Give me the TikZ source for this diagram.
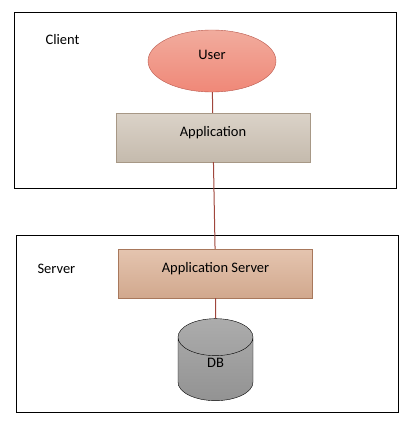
\documentclass[tikz,border=0pt]{standalone}
\usepackage{fontspec}
\setmainfont{Carlito}
\usetikzlibrary{positioning,shapes.geometric}
\definecolor{userfill}{HTML}{EE9785}
\definecolor{userline}{HTML}{B9574B}
\definecolor{appfill}{HTML}{CFC4B6}
\definecolor{appline}{HTML}{A79886}
\definecolor{srvfill}{HTML}{DCB195}
\definecolor{srvline}{HTML}{A8785C}
\definecolor{linkcol}{HTML}{A0463C}

\begin{document}
\begin{tikzpicture}[x=1pt,y=-1pt,
    every node/.style={font=\fontsize{14.5}{17}\selectfont},
    frame/.style={draw=black,line width=0.8pt,minimum width=382pt,minimum height=176pt},
    user/.style={ellipse,draw=userline,top color=userfill!80!white,bottom color=userfill!90!red,
        minimum width=128pt,minimum height=62pt,inner sep=0pt,text depth=12pt},
    appbox/.style={rectangle,draw=#1line,top color=#1fill!75!white,bottom color=#1fill!95!black,
        minimum width=194pt,minimum height=49pt,text depth=12pt},
    db/.style={cylinder,shape border rotate=90,aspect=2.2,draw=black,top color=gray!65,bottom color=gray!85,
        minimum width=75pt,minimum height=82pt,inner sep=0pt,text depth=12pt},
    link/.style={draw=linkcol,line width=1pt}]
    \useasboundingbox (0,0) rectangle (411,425);

    \node[frame] (client) at (205,100) {};
    \node[frame, minimum height=177pt] (server) at (207,323.5) {};
    \node[anchor=west] (clientlbl) at (42,40) {Client};
    \node[anchor=west] (serverlbl) at (34,269) {Server};

    \node[user] (user) at (212,61) {User};
    \node[appbox=app] (app) at (213,137.5) {Application};
    \node[appbox=srv] (appsrv) at (215.5,273.5) {Application Server};
    \node[db] (db) at (215.5,369) {DB};

    \path[link] (user) -- (app);
    \path[link] (app) -- (appsrv);
    \path[link] (appsrv) -- (db);
\end{tikzpicture}
\end{document}
